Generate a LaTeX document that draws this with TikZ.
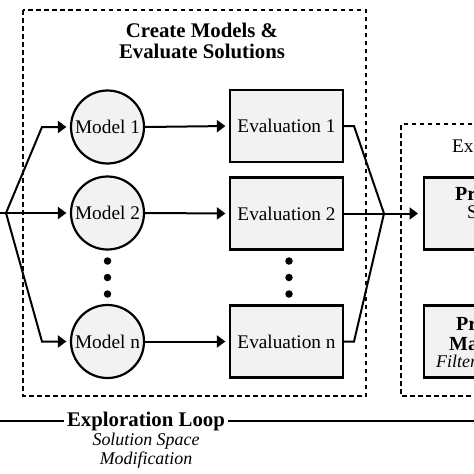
\documentclass[tikz,border=0pt]{standalone}
\usepackage{fontspec}
\setmainfont{Liberation Serif}
\usetikzlibrary{arrows.meta}
\definecolor{boxfill}{HTML}{F2F2F2}
\begin{document}
\begin{tikzpicture}[x=1pt,y=-1pt,
  shp/.style={draw,line width=2.2pt,fill=boxfill},
  txt/.style={font=\fontsize{19.3}{21}\selectfont},
  modelnode/.style={shp,circle,minimum size=73pt,inner sep=0pt,txt},
  evalnode/.style={shp,rectangle,minimum width=113pt,minimum height=72pt,inner sep=0pt,txt},
  sidebox/.style={shp,rectangle,minimum width=113pt,minimum height=72pt,inner sep=0pt},
  frame/.style={draw,line width=1.8pt,dash pattern=on 4.5pt off 3.5pt},
  conn/.style={line width=2pt},
  arr/.style={conn,-{Triangle[length=8.5pt,width=12pt]},shorten >=3.5pt},
  dotmark/.style={circle,fill,inner sep=0pt,minimum size=7.5pt},
  title/.style={align=center,font=\bfseries\fontsize{20.8}{21}\selectfont},
  frag/.style={anchor=base west,inner sep=0pt},
  sub/.style={align=center,font=\itshape\fontsize{17.9}{18.5}\selectfont}]
\useasboundingbox (0,0) rectangle (474,474);
\clip (0,0) rectangle (474,474);

% frames
\draw[frame] (23,10) rectangle (366,396);
\draw[frame] (520,124) -- (401,124) -- (401,396) -- (520,396);

\node[title] (ttl) at (202,41) {Create Models \&\\Evaluate Solutions};
\node[frag,txt] (ex) at (452,152) {Ex};

% models
\node[modelnode] (m1) at (107.5,127) {Model 1};
\node[modelnode] (m2) at (107.5,213) {Model 2};
\node[modelnode] (mn) at (107.5,341.5) {Model n};

% evaluations
\node[evalnode] (e1) at (286.5,126) {Evaluation 1};
\node[evalnode] (e2) at (286.5,213.5) {Evaluation 2};
\node[evalnode] (en) at (286.5,341.5) {Evaluation n};

% side boxes
\node[sidebox,anchor=west] (p1) at (423,213.5) {};
\node[sidebox,anchor=west] (p2) at (423,341.5) {};
\node[frag,font=\bfseries\fontsize{20}{21}\selectfont] (p1a) at (455,200) {Pro};
\node[frag,txt] (p1b) at (467,218) {S};
\node[frag,font=\bfseries\fontsize{20}{21}\selectfont] (p2a) at (456,330) {Pr};
\node[frag,font=\bfseries\fontsize{20}{21}\selectfont] (p2b) at (449,350) {Ma};
\node[frag,font=\itshape\fontsize{17.9}{21}\selectfont] (p2c) at (436,367) {Filter};

% dots
\foreach \y [count=\i] in {261,277.5,294}{
  \node[dotmark] (dm\i) at (107.5,\y) {};
  \node[dotmark] (de\i) at (289,\y) {};
}

% left branching
\coordinate (start) at (0,213);
\coordinate (split) at (6,213);
\coordinate (k1) at (42,127);
\coordinate (kn) at (42,341.5);
\draw[arr] (start) -- (m2.west);
\draw[arr] (split) -- (k1) -- (m1.west);
\draw[arr] (split) -- (kn) -- (mn.west);

% model -> evaluation
\draw[arr] (m1.east) -- (e1.west);
\draw[arr] (m2.east) -- (e2.west);
\draw[arr] (mn.east) -- (en.west);

% merge
\coordinate (merge) at (384,213.5);
\coordinate (j1) at (354,126);
\coordinate (jn) at (354,341.5);
\draw[conn] (e1.east) -- (j1) -- (merge);
\draw[conn] (en.east) -- (jn) -- (merge);
\draw[arr,shorten >=5pt] (e2.east) -- (p1.west);

% exploration loop
\node[title,fill=white,inner xsep=3pt] (loop) at (146,421) {Exploration Loop};
\node[sub,anchor=north] (loopsub) at (146,430) {Solution Space\\Modification};
\coordinate (ll) at (0,421);
\coordinate (lr) at (474,421);
\draw[conn] (ll) -- (loop.west);
\draw[conn] (loop.east) -- (lr);
\end{tikzpicture}
\end{document}
